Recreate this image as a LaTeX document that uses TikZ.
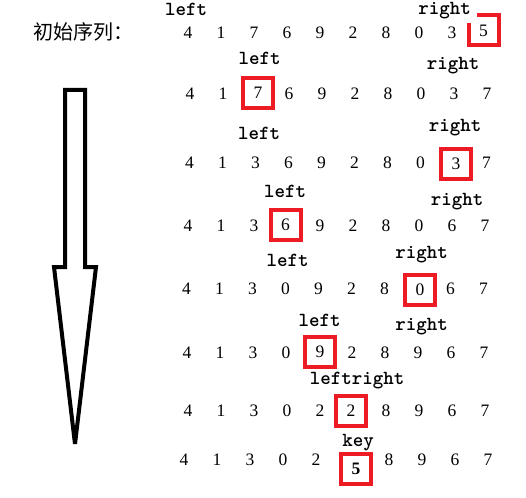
\documentclass[tikz,border=0pt]{standalone}
\usepackage{fontspec}
\setmainfont{Liberation Serif}
\newfontfamily\cjkfont{Noto Sans CJK SC}
\definecolor{hlred}{RGB}{237,28,36}

\begin{document}
\begin{tikzpicture}[x=1pt, y=-1pt]

\tikzstyle{num} = [font=\fontsize{17.5}{20}\selectfont, inner sep=0]
\tikzstyle{hl} = [draw=hlred, line width=4pt, minimum size=30pt, inner sep=0, font=\fontsize{17.5}{20}\selectfont]
\tikzstyle{lbl} = [font=\ttfamily\bfseries\fontsize{20}{22}\selectfont, inner sep=0]

\useasboundingbox (0,0) rectangle (526,497);

% arrow
\draw[line width=4pt, miter limit=4] (65,90) -- (85,90) -- (85,267) -- (96,267)
  -- (75,444) -- (54,267) -- (65,267) -- cycle;

\node[anchor=west, inner sep=0, font=\cjkfont\fontsize{20}{24}\selectfont] (title) at (33,32) {初始序列：};

% rows: row/y/first x/boxed/gap after box/box centre/digits
\foreach \r/\y/\xo/\k/\g/\bx/\by/\ds in {
  1/33/188/10/0/483.5/30.5/{4,1,7,6,9,2,8,0,3,5},
  2/94/190/3/0/258/93/{4,1,7,6,9,2,8,0,3,7},
  3/163/189.5/9/0/456/164/{4,1,3,6,9,2,8,0,3,7},
  4/226/188/4/0/285.5/225/{4,1,3,6,9,2,8,0,6,7},
  5/289/186.5/8/0/420/290/{4,1,3,0,9,2,8,0,6,7},
  6/353/187/5/0/320/351.5/{4,1,3,0,9,2,8,9,6,7},
  7/411/188/6/0/351/411/{4,1,3,0,2,2,8,9,6,7},
  8/460/184/6/7/356/468.5/{4,1,3,0,2,{\bfseries 5},8,9,6,7}}
{
  \foreach \d [count=\i] in \ds {
    \ifnum\i=\k
      \node[hl] (k\r) at (\bx,\by) {\d};
    \else
      \pgfmathsetmacro\xx{\xo+33*(\i-1)+(\i>\k)*\g}
      \node[num] (n\r-\i) at (\xx,\y) {\d};
    \fi
  }
}

% pointer labels
\node[lbl] (l1) at (186,9) {left};
\node[lbl, fill=white, inner xsep=6.3pt, inner ysep=3.7pt] (r1) at (444.5,11) {right};
\node[lbl] (l2) at (259.5,58) {left};
\node[lbl] (r2) at (453,66) {right};
\node[lbl] (l3) at (259,133) {left};
\node[lbl] (r3) at (455,128) {right};
\node[lbl] (l4) at (285,191) {left};
\node[lbl] (r4) at (457,202) {right};
\node[lbl] (l5) at (287.5,260) {left};
\node[lbl] (r5) at (421.5,255) {right};
\node[lbl] (l6) at (319.5,320) {left};
\node[lbl] (r6) at (421.5,327) {right};
\node[lbl] (lr7) at (357,381) {leftright};
\node[lbl] (key8) at (358,443) {key};
\end{tikzpicture}
\end{document}
